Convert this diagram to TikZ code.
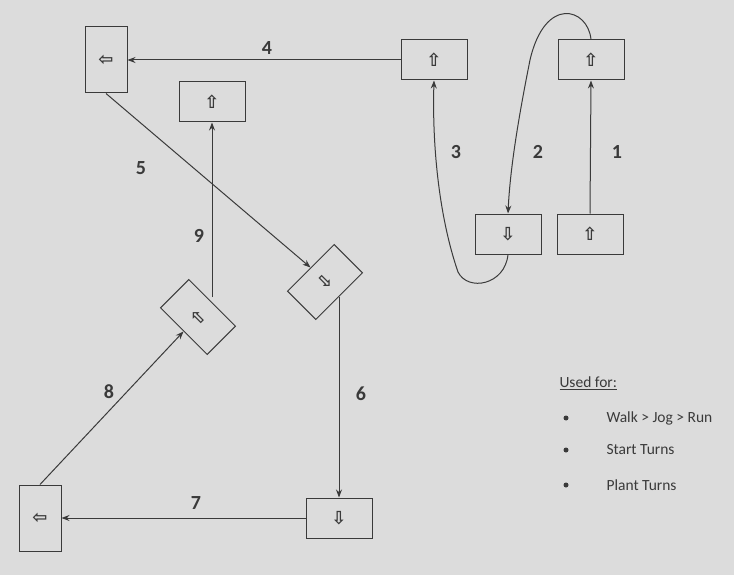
\documentclass[tikz,border=0pt]{standalone}
\usepackage{fontspec}
\setmainfont{Carlito}
\newfontfamily\symf{DejaVu Sans}
\usetikzlibrary{arrows.meta}
\definecolor{bg}{HTML}{DCDCDC}
\definecolor{ink}{HTML}{3A3A3A}
\begin{document}
\begin{tikzpicture}[x=1pt,y=-1pt,
  box/.style={draw=ink,line width=1pt,minimum width=66pt,minimum height=40pt,inner sep=0pt,font=\symf\bfseries\fontsize{18}{18}\selectfont,text=ink},
  tall/.style={box,minimum width=42pt,minimum height=66pt},
  conn/.style={draw=ink,line width=1pt,-{Stealth[length=8pt,width=6pt]}},
  lbl/.style={font=\bfseries\fontsize{20}{20}\selectfont,text=ink},
  leg/.style={font=\fontsize{15.5}{15.5}\selectfont,text=ink,anchor=west}]
\fill[bg] (0,0) rectangle (734,575);
\useasboundingbox (0,0) rectangle (734,575);
\node[box] (b1) at (590,234) {⇧};
\node[box] (b1t) at (591,60) {⇧};
\node[box] (b2) at (508,234) {⇩};
\node[box] (b3) at (434,60) {⇧};
\node[tall] (b4) at (106,60) {⇦};
\node[box] (b9) at (212,102) {⇧};
\node[box,rotate=45] (b5) at (325,282) {⇩};
\node[box,minimum width=40pt,minimum height=66pt,rotate=45] (b8) at (198,317) {⇧};
\node[box] (b6) at (339,518) {⇩};
\node[tall] (b7) at (40,518) {⇦};
\coordinate (p2) at (530,60);
\coordinate (p3) at (458,272);
\coordinate (b9s) at (212,297);
\coordinate (b5s) at (339,297);
\draw[conn] (b1.north) -- (b1t.south);
\draw[conn] (b1t.north) .. controls (588,8) and (545,-5) .. (p2) .. controls (518,120) and (510,170) .. (b2.north);
\draw[conn] (b2.south) .. controls (505,285) and (468,292) .. (p3) .. controls (440,220) and (432,150) .. (b3.south);
\draw[conn] (b3.west) -- (b4.east);
\draw[conn] (b4.south) -- (b5.north);
\draw[conn] (b5s) -- (b6.north);
\draw[conn] (b6.west) -- (b7.east);
\draw[conn] (b7.north) -- (b8.west);
\draw[conn] (b9s) -- (b9.south);
\node[lbl] (l1) at (617,152) {1};
\node[lbl] (l2) at (538,152) {2};
\node[lbl] (l3) at (456,152) {3};
\node[lbl] (l4) at (267,48) {4};
\node[lbl] (l5) at (141,168) {5};
\node[lbl] (l6) at (361,394) {6};
\node[lbl] (l7) at (196,503) {7};
\node[lbl] (l8) at (109,392) {8};
\node[lbl] (l9) at (199,236) {9};
\node[leg] (u) at (556,383) {\underline{Used for:}};
\foreach \y/\t [count=\i] in {418/{Walk > Jog > Run},450/{Start Turns},485/{Plant Turns}}{
  \fill[ink] (566,\y) circle (2.5pt);
  \node[leg] (t\i) at (603,\y) {\t};
}
\end{tikzpicture}
\end{document}
